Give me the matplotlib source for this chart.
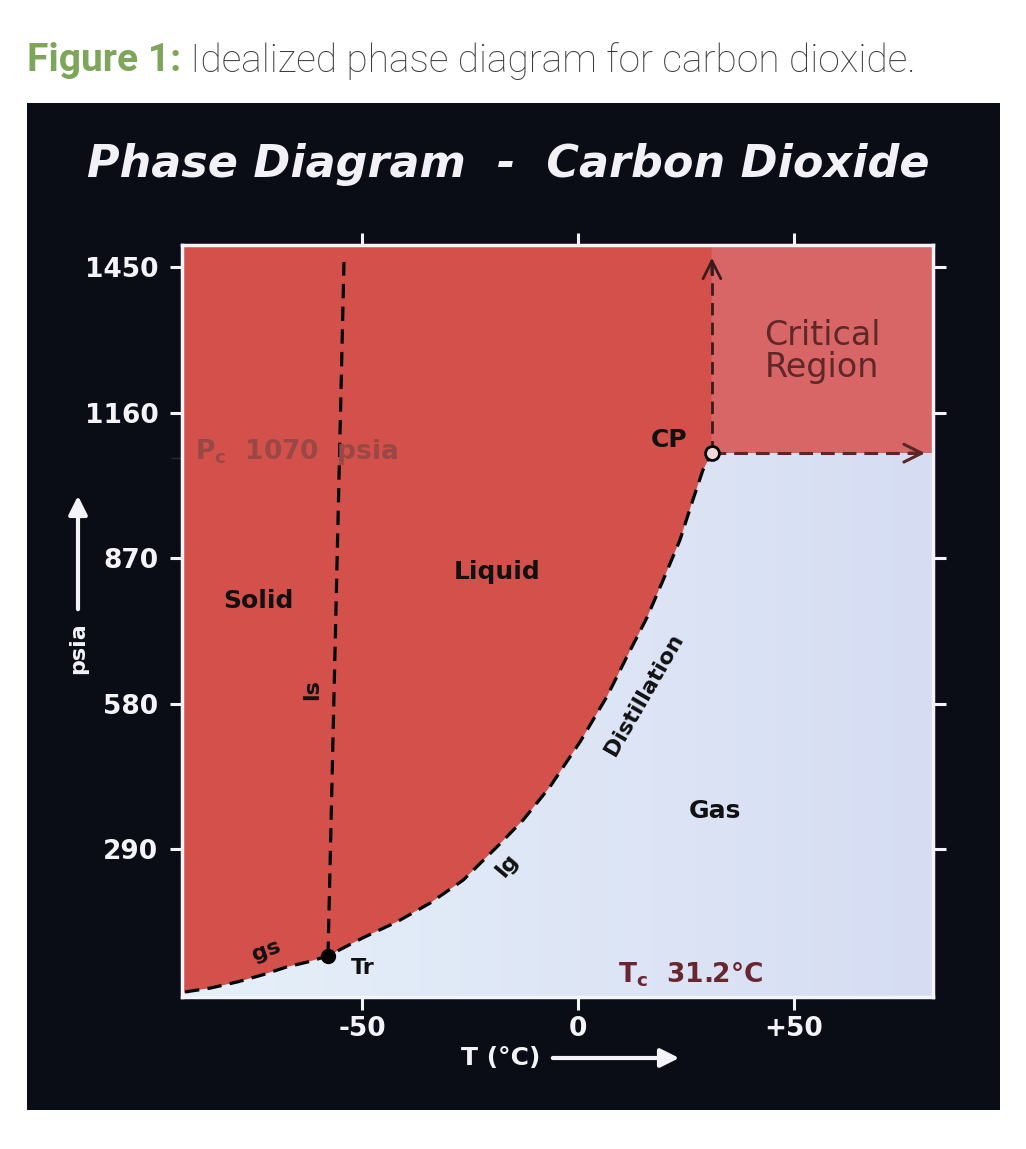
import numpy as np
import matplotlib
matplotlib.use("Agg")
import matplotlib.pyplot as plt
from matplotlib.patches import Rectangle, Polygon, FancyArrowPatch
from matplotlib.text import Annotation
from matplotlib.colors import LinearSegmentedColormap

# phase boundary (sublimation gs + vaporisation lg)
T_curve = [-91.0, -85.0, -78.9, -73.1, -67.4, -62.5, -57.9, -49.8, -41.9, -34.3,
           -26.6, -18.8, -12.7, -6.5, 0.5, 6.7, 11.3, 16.0, 19.7, 23.6,
           26.6, 28.9, 31.0]
P_curve = [5, 13, 25, 39, 55, 65, 77, 113, 145, 182,
           228, 294, 348, 414, 504, 594, 673, 752, 826, 906,
           986, 1045, 1079]

# fusion line ls (triple point to top)
T_fusion = [-57.9, -54.2]
P_fusion = [77, 1460]

T_triple, P_triple = -57.9, 77
T_crit, P_crit = 31.0, 1079

xticks = [-50, 0, 50]
xticklabels = ["-50", "0", "+50"]
yticks = [290, 580, 870, 1160, 1450]

xlim = (-91.7, 82.2)
ylim = (-5, 1494)

RED = "#d4504a"
CRIT = "#d96666"
DARK = "#0a0c16"
WHITE = "#f4f4f8"

fig = plt.figure(figsize=(10.26, 11.49), dpi=100)
fig.patch.set_facecolor("white")

# dark panel behind the chart
fig.patches.append(Rectangle((0.0263, 0.034), 0.948, 0.8764, transform=fig.transFigure,
                             facecolor=DARK, edgecolor="none", zorder=-1))

# caption
cap1 = fig.text(0.0263, 0.947, "Figure 1:", color="#7ea65a", fontsize=28,
                fontfamily="Roboto", fontweight="bold", va="center", ha="left")
fig.add_artist(Annotation(" Idealized phase diagram for carbon dioxide.", xy=(1, 0.5),
                          xycoords=cap1, va="center", ha="left", color="#3c3c3c",
                          fontsize=28, fontfamily="Roboto", fontweight="light",
                          annotation_clip=False))

fig.text(0.495, 0.857, "Phase Diagram  -  Carbon Dioxide", color="#f2f2f6",
         fontsize=32, fontfamily="DejaVu Sans", fontweight="bold", fontstyle="italic",
         ha="center", va="center")

ax = fig.add_axes([0.1774, 0.1323, 0.732, 0.6545])
ax.set_zorder(2)
ax.set_xlim(*xlim)
ax.set_ylim(*ylim)

# gas background: soft light-blue wash
gas_cmap = LinearSegmentedColormap.from_list("gas", ["#e6f0f9", "#d6ddf3"])
ax.imshow(np.linspace(0, 1, 256).reshape(1, -1), cmap=gas_cmap, aspect="auto",
          extent=(xlim[0], xlim[1], ylim[0], ylim[1]), zorder=0, interpolation="bilinear")

# regions
red_poly = [(xlim[0], ylim[0])] + list(zip(T_curve, P_curve)) + \
           [(T_crit, ylim[1]), (xlim[0], ylim[1])]
ax.add_patch(Polygon(red_poly, closed=True, facecolor=RED, edgecolor="none", zorder=1))
ax.add_patch(Rectangle((T_crit, P_crit), xlim[1] - T_crit, ylim[1] - P_crit,
                       facecolor=CRIT, edgecolor="none", zorder=1))

dash = (0, (4.5, 2.6))
ax.plot(T_curve, P_curve, color="black", lw=2.3, linestyle=dash, zorder=3)
ax.plot(T_fusion, P_fusion, color="black", lw=2.3, linestyle=dash, zorder=3)

# critical region arrows
ax.plot([T_crit, T_crit], [P_crit, 1472], color="#3a1c1c", lw=2.0, linestyle=dash, zorder=3)
ax.plot([T_crit, 80.5], [P_crit, P_crit], color="#5a2626", lw=2.2, linestyle=dash, zorder=3)
ax.annotate("", xy=(T_crit, 1474), xytext=(T_crit, 1430),
            arrowprops=dict(arrowstyle="->", color="#3a1c1c", lw=2.0, mutation_scale=32), zorder=4)
ax.annotate("", xy=(81.0, P_crit), xytext=(76, P_crit),
            arrowprops=dict(arrowstyle="->", color="#5a2626", lw=2.2, mutation_scale=32), zorder=4)

ax.plot([T_triple], [P_triple], "o", color="black", ms=10, zorder=5)
ax.plot([T_crit], [P_crit], "o", mfc="#f0d8d8", mec="black", mew=2, ms=10, zorder=5)

# ticks and frame
for s in ax.spines.values():
    s.set_color(WHITE)
    s.set_linewidth(2.5)
ax.set_xticks(xticks)
ax.set_xticklabels(xticklabels)
ax.set_yticks(yticks)
ax.tick_params(axis="both", direction="out", length=9, width=2.2, color=WHITE,
               labelcolor=WHITE, labelsize=19, pad=5)
ax.tick_params(axis="y", pad=8)
ax.tick_params(top=True, right=True, labeltop=False, labelright=False)
for lab in ax.get_xticklabels() + ax.get_yticklabels():
    lab.set_fontweight("bold")
    lab.set_fontfamily("DejaVu Sans")
ax.set_yticks([1070], minor=True)
ax.tick_params(axis="y", which="minor", length=8, width=1, color="#2a2a34", right=False)

# region labels
lbl = dict(color="#111111", fontweight="bold", fontfamily="DejaVu Sans", ha="center",
           va="center", zorder=6)
ax.text(-74.1, 784, "Solid", fontsize=18, **lbl)
ax.text(-18.7, 842, "Liquid", fontsize=18, **lbl)
ax.text(31.7, 366, "Gas", fontsize=18, **lbl)
ax.text(-61.6, 607, "ls", fontsize=16, rotation=90, **lbl)
ax.text(15.3, 597, "Distillation", fontsize=16, rotation=60, **lbl)
ax.text(-16.4, 256, "lg", fontsize=16, rotation=50, **lbl)
ax.text(-72.2, 87, "gs", fontsize=16, rotation=20, **lbl)
ax.text(-49.8, 53, "Tr", fontsize=16, **lbl)
ax.text(21.0, 1105, "CP", fontsize=18, **lbl)

ax.text(-88.8, 1081, r"P$_\mathregular{c}$  1070  psia", color="#9a4846", fontsize=19,
        fontfamily="DejaVu Sans", fontweight="bold", ha="left", va="center", zorder=6)
ax.text(9.3, 39, r"T$_\mathregular{c}$  31.2°C", color="#6a2630", fontsize=19,
        fontfamily="DejaVu Sans", fontweight="bold", ha="left", va="center", zorder=6)
ax.text(56.5, 1281, "Critical\nRegion", color="#5e2828", fontsize=24,
        fontfamily="DejaVu Sans", ha="center", va="center", linespacing=0.95, zorder=6)

# axis titles with arrows
fig.text(78 / 1026, 1 - 648 / 1149, "psia", color=WHITE, fontsize=16,
         fontweight="bold", rotation=90, ha="center", va="center")
fig.patches.append(FancyArrowPatch(
    (78 / 1026, 1 - 612 / 1149), (78 / 1026, 1 - 493 / 1149), transform=fig.transFigure,
    arrowstyle="-|>", mutation_scale=28, lw=3, color=WHITE))
fig.text(540 / 1026, 1 - 1058 / 1149, "T (°C)", color=WHITE, fontsize=18,
         fontweight="bold", ha="right", va="center")
fig.patches.append(FancyArrowPatch(
    (550 / 1026, 1 - 1058 / 1149), (682 / 1026, 1 - 1058 / 1149), transform=fig.transFigure,
    arrowstyle="-|>", mutation_scale=28, lw=3, color=WHITE))

fig.savefig("out.png", dpi=100, facecolor=fig.get_facecolor())
